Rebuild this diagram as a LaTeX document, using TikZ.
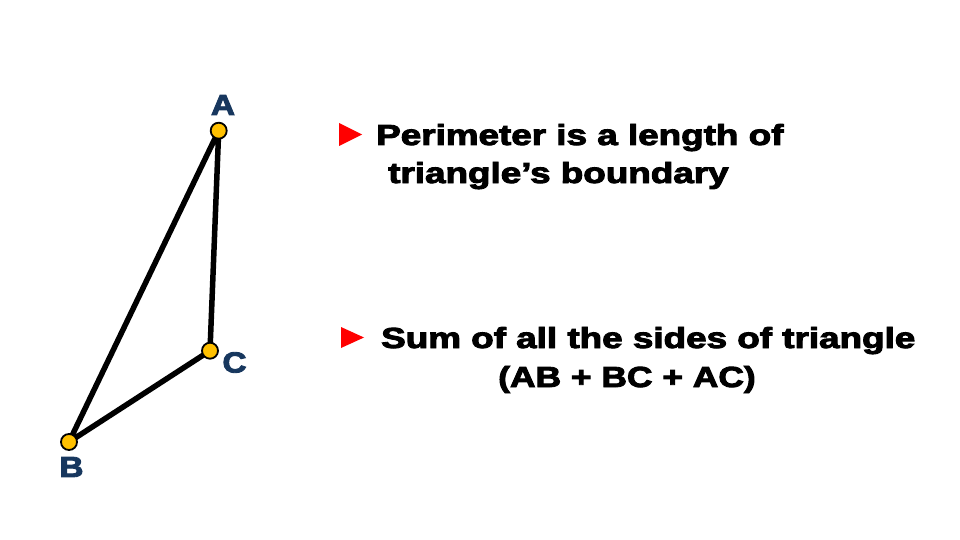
\documentclass[tikz,border=0pt]{standalone}
\usepackage{fontspec}
\setmainfont{Liberation Sans}[BoldFeatures={FakeBold=3}]
\definecolor{lbl}{HTML}{17375E}
\definecolor{dotc}{HTML}{FFC000}
\definecolor{bul}{HTML}{FF0000}
\newcommand{\widetxt}[1]{\scalebox{1.27}[1]{#1}}
\newcommand{\widelbl}[1]{\scalebox{1.15}[1]{#1}}
\begin{document}
\begin{tikzpicture}[x=1pt,y=-1pt,
  vdot/.style={circle,draw=black,line width=1.8pt,fill=dotc,minimum size=16pt,inner sep=0pt},
  side/.style={line width=5.5pt,line cap=round,line join=round},
  vlabel/.style={text=lbl,font=\fontsize{29}{30}\selectfont\bfseries,inner sep=0pt},
  txt/.style={font=\fontsize{29}{32}\selectfont\bfseries,inner sep=0pt,anchor=base west},
  bullet/.style={fill=bul,draw=none}]
\useasboundingbox (0,0) rectangle (960,540);
\fill[white] (0,0) rectangle (960,540);
\coordinate (A) at (218.7,130.7);
\coordinate (B) at (69,442);
\coordinate (C) at (210,350.7);
\draw[side] (A) -- (B) -- (C) -- cycle;
\node[vdot] (dA) at (A) {};
\node[vdot] (dB) at (B) {};
\node[vdot] (dC) at (C) {};
\node[vlabel] (lA) at (223,105) {\widelbl{A}};
\node[vlabel] (lB) at (71.5,467) {\widelbl{B}};
\node[vlabel] (lC) at (234.5,362.5) {\widelbl{C}};
\fill[bullet] (339,123) -- (339,146) -- (362,134.5) -- cycle;
\fill[bullet] (341,327) -- (341,348) -- (364,337.5) -- cycle;
\node[txt] (t1) at (376,145) {\widetxt{Perimeter is a length of}};
\node[txt] (t2) at (388,183) {\widetxt{triangle’s boundary}};
\node[txt] (t3) at (381,348) {\widetxt{Sum of all the sides of triangle}};
\node[txt,anchor=base] (t4) at (627,387) {\scalebox{1.22}[1]{(AB + BC + AC)}};
\end{tikzpicture}
\end{document}
